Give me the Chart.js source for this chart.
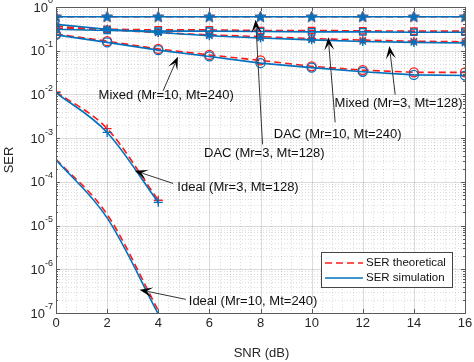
<!DOCTYPE html>
<html>
<head>
<meta charset="utf-8">
<script src="https://cdn.jsdelivr.net/npm/chart.js@4.4.1/dist/chart.umd.min.js"></script>
<style>
  html, body { margin: 0; padding: 0; background: #fff; }
  #wrap { width: 474px; height: 362px; position: relative; }
</style>
</head>
<body>
<div id="wrap"><canvas id="chartSer"></canvas></div>
<script>
// ===============================
// DATA
// ===============================
const snr      = [0, 2, 4, 6, 8, 10, 12, 14, 16];
const snrIdeal = [0, 2, 4];

const dacMr3Theo   = [0.60, 0.60, 0.60, 0.60, 0.60, 0.60, 0.60, 0.60, 0.60];
const dacMr3Sim    = [0.60, 0.60, 0.60, 0.60, 0.60, 0.60, 0.60, 0.60, 0.60];
const dacMr10Theo  = [0.32, 0.31, 0.30, 0.30, 0.29, 0.29, 0.285, 0.28, 0.28];
const dacMr10Sim   = [0.31, 0.29, 0.28, 0.28, 0.275, 0.27, 0.27, 0.265, 0.265];
const mixMr3Theo   = [0.36, 0.30, 0.26, 0.23, 0.21, 0.19, 0.175, 0.165, 0.16];
const mixMr3Sim    = [0.40, 0.31, 0.26, 0.22, 0.195, 0.177, 0.163, 0.155, 0.15];
const mixMr10Theo  = [0.24, 0.165, 0.11, 0.08, 0.06, 0.044, 0.036, 0.032, 0.032];
const mixMr10Sim   = [0.23, 0.155, 0.103, 0.074, 0.052, 0.041, 0.033, 0.028, 0.027];
const idealMr3Theo  = [1.15e-2, 1.65e-3, 3.8e-5];
const idealMr3Sim   = [1.10e-2, 1.35e-3, 3.4e-5];
const idealMr10Theo = [3.3e-4, 1.8e-5, 1.15e-7];
const idealMr10Sim  = [3.2e-4, 1.5e-5, 9.5e-8];

const xTicks = [0, 2, 4, 6, 8, 10, 12, 14, 16];
const yExps  = [0, -1, -2, -3, -4, -5, -6, -7];

const legendLabels = ["SER theoretical", "SER simulation"];

// annotation: text, text pos [x, y], arrow tail [x, y], arrow tip [x, y]
const notes = [
  ["Mixed (Mr=10, Mt=240)", [4.31, 9.3e-3], [4.19, 1.21e-2], [4.77, 0.073]],
  ["Mixed (Mr=3, Mt=128)",  [13.4, 6.2e-3], [13.27, 9.9e-3], [13.04, 0.128]],
  ["DAC (Mr=10, Mt=240)",   [11.02, 1.2e-3], [10.92, 2.3e-3], [10.65, 0.204]],
  ["DAC (Mr=3, Mt=128)",    [8.15, 4.5e-4], [8.08, 7.2e-4], [7.81, 0.51]],
  ["Ideal (Mr=3, Mt=128)",  [7.12, 7.5e-5], [4.58, 9.2e-5], [3.08, 1.8e-4]],
  ["Ideal (Mr=10, Mt=240)", [7.71, 1.85e-7], [5.08, 2.05e-7], [3.27, 3.4e-7]]
];

// ===============================
// STYLE
// ===============================
const BLUE = "#0072BD";
const RED  = "#FF1A1A";
const FONT = "'Liberation Sans', Arial, sans-serif";

function starImg(fill, stroke) {
  const c = document.createElement("canvas");
  c.width = 13; c.height = 13;
  const g = c.getContext("2d");
  g.beginPath();
  for (let i = 0; i < 10; i++) {
    const r = i % 2 === 0 ? 5.6 : 2.3;
    const a = -Math.PI / 2 + i * Math.PI / 5;
    const px = 6.5 + r * Math.cos(a), py = 6.9 + r * Math.sin(a);
    if (i === 0) g.moveTo(px, py); else g.lineTo(px, py);
  }
  g.closePath();
  if (fill) { g.fillStyle = fill; g.fill(); }
  g.strokeStyle = stroke; g.lineWidth = 1; g.stroke();
  return c;
}
const starBlue = starImg(BLUE, BLUE);
const starRed  = starImg(null, RED);

function pts(xs, ys) {
  return ys.map((v, i) => ({ x: xs[i], y: v }));
}

function theo(xs, ys, marker, extra) {
  return Object.assign({
    data: pts(xs, ys),
    borderColor: RED,
    borderWidth: 1.6,
    borderDash: [7, 4],
    pointStyle: marker,
    pointRadius: marker ? 4.5 : 0,
    pointBorderColor: RED,
    pointBackgroundColor: "rgba(0,0,0,0)",
    pointBorderWidth: 1.3,
    order: 2
  }, extra || {});
}

function sim(xs, ys, marker, extra) {
  return Object.assign({
    data: pts(xs, ys),
    borderColor: BLUE,
    borderWidth: 1.6,
    pointStyle: marker,
    pointRadius: marker ? 4.5 : 0,
    pointBorderColor: BLUE,
    pointBackgroundColor: "rgba(0,0,0,0)",
    pointBorderWidth: 1.3,
    order: 1
  }, extra || {});
}

const smooth = { cubicInterpolationMode: "monotone" };

// ===============================
// PLUGIN: MATLAB-like axes, grid, ticks, labels, legend, arrows
// ===============================
const matlabAxes = {
  id: "matlabAxes",
  beforeDatasetsDraw(chart) {
    const { ctx, chartArea: a, scales: { x, y } } = chart;
    ctx.save();
    // minor grid
    ctx.strokeStyle = "rgba(0,0,0,0.13)";
    ctx.lineWidth = 1;
    ctx.setLineDash([1, 2]);
    for (let e = -7; e < 0; e++) {
      for (let m = 2; m < 10; m++) {
        const py = Math.round(y.getPixelForValue(m * Math.pow(10, e))) + 0.5;
        ctx.beginPath(); ctx.moveTo(a.left, py); ctx.lineTo(a.right, py); ctx.stroke();
      }
    }
    for (let v = 0.4; v < 16; v += 0.4) {
      if (Math.abs(v / 2 - Math.round(v / 2)) < 1e-6) continue;
      const px = Math.round(x.getPixelForValue(v)) + 0.5;
      ctx.beginPath(); ctx.moveTo(px, a.top); ctx.lineTo(px, a.bottom); ctx.stroke();
    }
    // major grid
    ctx.setLineDash([]);
    ctx.strokeStyle = "rgba(0,0,0,0.14)";
    yExps.forEach(e => {
      const py = Math.round(y.getPixelForValue(Math.pow(10, e))) + 0.5;
      ctx.beginPath(); ctx.moveTo(a.left, py); ctx.lineTo(a.right, py); ctx.stroke();
    });
    xTicks.forEach(t => {
      const px = Math.round(x.getPixelForValue(t)) + 0.5;
      ctx.beginPath(); ctx.moveTo(px, a.top); ctx.lineTo(px, a.bottom); ctx.stroke();
    });
    ctx.restore();
  },
  afterDatasetsDraw(chart) {
    const { ctx, chartArea: a, scales: { x, y } } = chart;
    ctx.save();
    // box + ticks
    ctx.strokeStyle = "#5a5a5a";
    ctx.lineWidth = 1;
    ctx.strokeRect(Math.round(a.left) + 0.5, Math.round(a.top) + 0.5,
                   Math.round(a.right - a.left), Math.round(a.bottom - a.top));
    ctx.beginPath();
    xTicks.forEach(t => {
      const px = Math.round(x.getPixelForValue(t)) + 0.5;
      ctx.moveTo(px, a.bottom); ctx.lineTo(px, a.bottom - 4);
      ctx.moveTo(px, a.top); ctx.lineTo(px, a.top + 4);
    });
    yExps.forEach(e => {
      const py = Math.round(y.getPixelForValue(Math.pow(10, e))) + 0.5;
      ctx.moveTo(a.left, py); ctx.lineTo(a.left + 4, py);
      ctx.moveTo(a.right, py); ctx.lineTo(a.right - 4, py);
    });
    for (let e = -7; e < 0; e++) {
      for (let m = 2; m < 10; m++) {
        const py = Math.round(y.getPixelForValue(m * Math.pow(10, e))) + 0.5;
        ctx.moveTo(a.left, py); ctx.lineTo(a.left + 2, py);
        ctx.moveTo(a.right, py); ctx.lineTo(a.right - 2, py);
      }
    }
    ctx.stroke();

    // tick labels
    ctx.fillStyle = "#262626";
    ctx.textBaseline = "middle";
    ctx.textAlign = "center";
    ctx.font = "13px " + FONT;
    xTicks.forEach(t => ctx.fillText(String(t), x.getPixelForValue(t), a.bottom + 10));
    yExps.forEach(e => {
      const py = y.getPixelForValue(Math.pow(10, e));
      const sup = e === 0 ? "0" : "-" + Math.abs(e);
      ctx.font = "9px " + FONT;
      ctx.textAlign = "right";
      const supW = ctx.measureText(sup).width;
      ctx.fillText(sup, a.left - 3, py - 6);
      ctx.font = "13px " + FONT;
      ctx.fillText("10", a.left - 3 - supW, py + 1);
    });

    // axis titles
    ctx.textAlign = "center";
    ctx.font = "13px " + FONT;
    ctx.fillText("SNR (dB)", (a.left + a.right) / 2 + 1, 353);
    ctx.save();
    ctx.translate(9, (a.top + a.bottom) / 2);
    ctx.rotate(-Math.PI / 2);
    ctx.fillText("SER", 0, 0);
    ctx.restore();

    // annotations
    ctx.font = "13px " + FONT;
    notes.forEach(n => {
      const tx = x.getPixelForValue(n[1][0]), ty = y.getPixelForValue(n[1][1]);
      ctx.fillStyle = "#111";
      ctx.fillText(n[0], tx, ty);
      const x0 = x.getPixelForValue(n[2][0]), y0 = y.getPixelForValue(n[2][1]);
      const x1 = x.getPixelForValue(n[3][0]), y1 = y.getPixelForValue(n[3][1]);
      const ang = Math.atan2(y1 - y0, x1 - x0);
      const L = 11, W = 5;
      const bx = x1 - L * Math.cos(ang), by = y1 - L * Math.sin(ang);
      ctx.strokeStyle = "#333";
      ctx.lineWidth = 1;
      ctx.beginPath(); ctx.moveTo(x0, y0); ctx.lineTo(bx + 3 * Math.cos(ang), by + 3 * Math.sin(ang)); ctx.stroke();
      ctx.beginPath();
      ctx.moveTo(x1, y1);
      ctx.lineTo(bx - W * Math.sin(ang) - 2 * Math.cos(ang), by + W * Math.cos(ang) - 2 * Math.sin(ang));
      ctx.lineTo(bx + 4 * Math.cos(ang), by + 4 * Math.sin(ang));
      ctx.lineTo(bx + W * Math.sin(ang) - 2 * Math.cos(ang), by - W * Math.cos(ang) - 2 * Math.sin(ang));
      ctx.closePath();
      ctx.fillStyle = "#000";
      ctx.fill();
    });

    // legend
    const lx = 321.5, ly = 252.5, lw = 131, lh = 35;
    ctx.fillStyle = "#fff";
    ctx.fillRect(lx, ly, lw, lh);
    ctx.strokeStyle = "#444";
    ctx.strokeRect(lx, ly, lw, lh);
    ctx.lineWidth = 1.6;
    ctx.strokeStyle = RED;
    ctx.setLineDash([7, 4]);
    ctx.beginPath(); ctx.moveTo(325, 263); ctx.lineTo(363, 263); ctx.stroke();
    ctx.setLineDash([]);
    ctx.strokeStyle = BLUE;
    ctx.beginPath(); ctx.moveTo(325, 278); ctx.lineTo(363, 278); ctx.stroke();
    ctx.fillStyle = "#111";
    ctx.textAlign = "left";
    ctx.font = "11.5px " + FONT;
    ctx.fillText(legendLabels[0], 366, 263);
    ctx.fillText(legendLabels[1], 366, 278);
    ctx.restore();
  }
};

// ===============================
// CHART
// ===============================
new Chart(document.getElementById("chartSer"), {
  type: "line",
  data: {
    datasets: [
      theo(snr, dacMr3Theo, starRed),
      sim(snr, dacMr3Sim, starBlue),
      theo(snr, dacMr10Theo, "rect"),
      sim(snr, dacMr10Sim, "rect"),
      theo(snr, mixMr3Theo, "star"),
      sim(snr, mixMr3Sim, "star"),
      theo(snr, mixMr10Theo, "circle"),
      sim(snr, mixMr10Sim, "circle"),
      theo(snrIdeal, idealMr3Theo, "cross", smooth),
      sim(snrIdeal, idealMr3Sim, "cross", smooth),
      theo(snrIdeal, idealMr10Theo, null, smooth),
      sim(snrIdeal, idealMr10Sim, null, smooth)
    ]
  },
  options: {
    responsive: true,
    maintainAspectRatio: false,
    animation: false,
    layout: { padding: { left: 48, right: 9, top: 7, bottom: 41 } },
    plugins: { legend: { display: false }, tooltip: { enabled: false } },
    scales: {
      x: {
        type: "linear", min: 0, max: 16,
        ticks: { display: false },
        grid: { display: false },
        border: { display: false }
      },
      y: {
        type: "logarithmic", min: 1e-7, max: 1,
        ticks: { display: false },
        grid: { display: false },
        border: { display: false }
      }
    }
  },
  plugins: [matlabAxes]
});
</script>
</body>
</html>
